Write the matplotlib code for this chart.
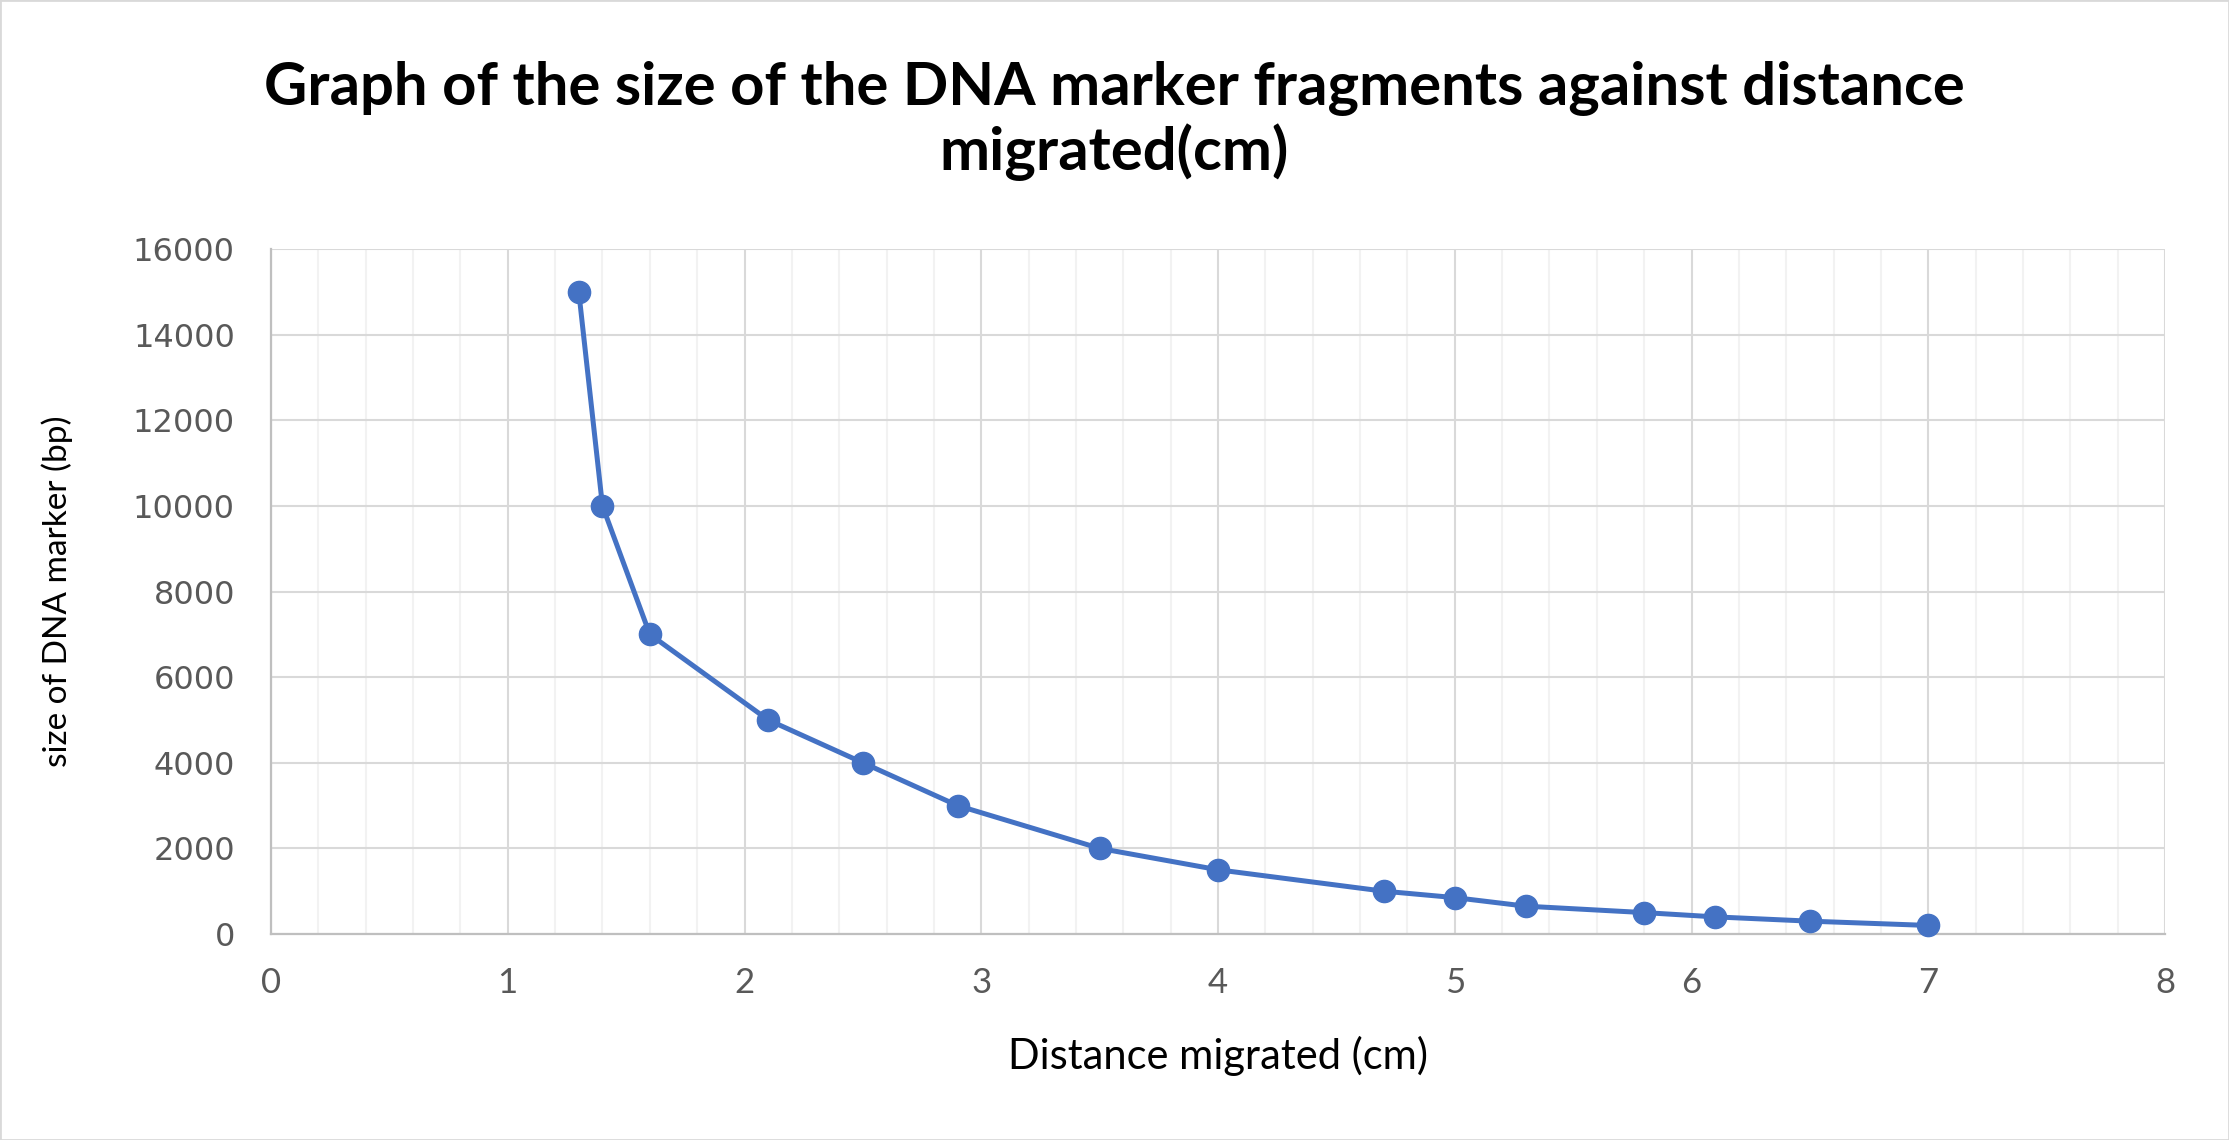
import matplotlib.pyplot as plt
from matplotlib.ticker import MultipleLocator
from matplotlib.patches import Rectangle

# distance migrated (cm) and fragment size (bp) of the marker ladder
distance_cm = [1.3, 1.4, 1.6, 2.1, 2.5, 2.9, 3.5, 4.0, 4.7, 5.0, 5.3, 5.8, 6.1, 6.5, 7.0]
size_bp = [15000, 10000, 7000, 5000, 4000, 3000, 2000, 1500, 1000, 850, 650, 500, 400, 300, 200]

title = "Graph of the size of the DNA marker fragments against distance\nmigrated(cm)"
x_label = "Distance migrated (cm)"
y_label = "size of DNA marker (bp)"

fig = plt.figure(figsize=(22.29, 11.4), dpi=100)
ax = fig.add_axes([271 / 2229, 1 - 934 / 1140, (2165 - 271) / 2229, (934 - 249) / 1140])

ax.plot(distance_cm, size_bp, color="#4472C4", linewidth=3.6,
        marker="o", markersize=16, zorder=3, clip_on=False)

ax.set_xlim(0, 8)
ax.set_ylim(0, 16000)
ax.xaxis.set_major_locator(MultipleLocator(1))
ax.xaxis.set_minor_locator(MultipleLocator(0.2))
ax.yaxis.set_major_locator(MultipleLocator(2000))

ax.grid(which="major", color="#d9d9d9", linewidth=1.5)
ax.grid(which="minor", axis="x", color="#f2f2f2", linewidth=1.5)
ax.set_axisbelow(True)

for s in ["top", "right"]:
    ax.spines[s].set_visible(False)
for s in ["left", "bottom"]:
    ax.spines[s].set_color("#bfbfbf")
    ax.spines[s].set_linewidth(1.6)

ax.tick_params(which="both", length=0, labelcolor="#595959")
ax.tick_params(axis="y", labelsize=23, pad=26)
ax.tick_params(axis="x", labelsize=25, pad=24)
for lab in ax.get_yticklabels():
    lab.set_family("DejaVu Sans")
for lab in ax.get_xticklabels():
    lab.set_family("Lato")

ax.set_xlabel(x_label, fontsize=30, family="Lato", va="center")
ax.xaxis.set_label_coords(0.5, -0.178)
ax.set_ylabel(y_label, fontsize=24, family="Lato", va="center")
ax.yaxis.set_label_coords(-0.113, 0.5)

fig.text(0.5, 1 - 121 / 1140, title, ha="center", va="center",
         fontsize=43, fontweight="bold", family="Lato", linespacing=1.15)

fig.patches.append(Rectangle((0, 0), 1, 1, transform=fig.transFigure,
                             fill=False, edgecolor="#d9d9d9", linewidth=2))

fig.savefig("out.png", dpi=100)
